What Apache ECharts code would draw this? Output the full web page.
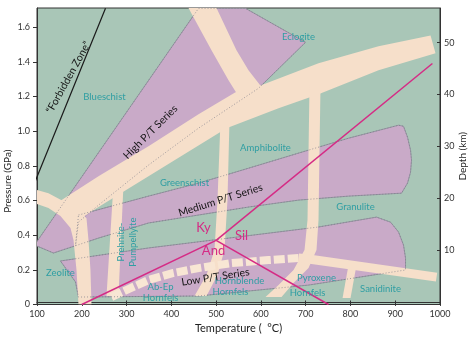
<!DOCTYPE html>
<html>
<head>
<meta charset="utf-8">
<script src="https://cdn.jsdelivr.net/npm/echarts@6/dist/echarts.min.js"></script>
<style>
  html, body { margin: 0; padding: 0; background: #ffffff; }
  #chart { width: 474px; height: 339px; }
</style>
</head>
<body>
<div id="chart"></div>
<script>
// ---- Axis values ----
const tempTicks = [100, 200, 300, 400, 500, 600, 700, 800, 900, 1000];
const pressureTicks = [0, 0.2, 0.4, 0.6, 0.8, 1.0, 1.2, 1.4, 1.6];
const depthTicks = [10, 20, 30, 40, 50];

// ---- P/T series fields (temperature °C, pressure GPa) ----
const highPT = [
  [94.4, 0.343], [460.7, 1.708], [565.6, 1.708], [699.7, 1.512], [594.7, 1.247],
  [460.7, 1.017], [349, 0.804], [237.3, 0.573], [192.6, 0.475], [186, 0.339], [136.8, 0.297]
];
const mediumPT = [
  [192.6, 0.516], [349, 0.625], [460.7, 0.700], [572.3, 0.786], [684, 0.873], [795.7, 0.959],
  [907.4, 1.034], [918.5, 1.028], [927.5, 0.965], [934.2, 0.890], [936.4, 0.832], [934.2, 0.763],
  [927.5, 0.700], [914.1, 0.642], [795.7, 0.625], [684, 0.602], [572.3, 0.562], [460.7, 0.516],
  [349, 0.470], [237.3, 0.383], [186, 0.339]
];
const lowPT = [
  [152.4, 0.251], [349, 0.326], [572.3, 0.397], [728.7, 0.447], [858.3, 0.504], [889.5, 0.475],
  [907.4, 0.418], [918.5, 0.343], [923, 0.268], [923, 0.199], [706.4, 0.112], [550, 0.072],
  [460.7, 0.049], [192.6, 0.043], [186, 0.130]
];

// ---- Facies boundary zones ----
const blueschistGreenschist = [
  [136.8, 0.573], [237.3, 0.740], [349, 0.913], [460.7, 1.097], [543.3, 1.224], [594.7, 1.259],
  [728.7, 1.391], [862.7, 1.489], [978.9, 1.552], [990, 1.449], [862.7, 1.351], [728.7, 1.213],
  [639.4, 1.132], [523.2, 1.017], [349, 0.740], [237.3, 0.562], [192.6, 0.487]
];
const blueschistEclogite = [
  [438.3, 1.71], [489.7, 1.466], [527.7, 1.293], [550, 1.201], [603.6, 1.247],
  [572.3, 1.351], [545.5, 1.466], [500.9, 1.71]
];
const zeoliteZone = [
  [94, 0.665], [125.6, 0.642], [159.1, 0.596], [192.6, 0.544], [210.5, 0.498], [215, 0.372],
  [219.4, 0.199], [221.7, 0], [192.6, 0], [188.2, 0.199], [181.5, 0.372], [174.8, 0.441],
  [152.4, 0.510], [125.6, 0.556], [94, 0.585]
];
const prehniteZone = [[270.8, 0.69], [293.1, 0.69], [282, 0.049], [255.2, 0.049]];
const greenschistAmphibolite = [
  [509.8, 1.063], [503.1, 0.602], [496.4, 0.314], [478.5, 0.170], [451.7, 0.049],
  [478.5, 0.049], [503.1, 0.170], [518.7, 0.314], [525.4, 0.602], [529.9, 1.063]
];
const amphiboliteGranulite = [
  [708.6, 1.264], [706.4, 0.890], [704.1, 0.487], [697.4, 0.314], [672.9, 0.199], [639.4, 0.112],
  [610.3, 0.043], [646.1, 0.043], [672.9, 0.124], [706.4, 0.210], [724.2, 0.314], [728.7, 0.487],
  [730.9, 0.890], [733.2, 1.264]
];
const sanidiniteZone = [[795.7, 0.228], [813.6, 0.228], [800.2, 0.037], [782.4, 0.037]];
const lowPTDashed = [
  [266.3, 0.043], [304.3, 0.089], [349, 0.141], [404.8, 0.182], [460.7, 0.210],
  [534.4, 0.239], [617, 0.256], [684, 0.268]
];
const lowPTSolid = [[684, 0.268], [706.4, 0.262], [992.3, 0.158]];

// ---- Lines ----
const forbiddenLine = [[94.4, 0.70], [253, 1.708]];
const triplePoint = [500, 0.37];
const kyAnd = [[200, 0], triplePoint];
const kySil = [triplePoint, [983, 1.39]];
const andSil = [triplePoint, [751, 0]];

// ---- Text annotations ----
const faciesNames = ['Eclogite', 'Blueschist', 'Amphibolite', 'Greenschist', 'Granulite', 'Zeolite',
  'Ab-Ep', 'Hornfels', 'Hornblende', 'Hornfels', 'Pyroxene', 'Hornfels', 'Sanidinite'];
const faciesAt = [[684, 1.541], [250.7, 1.195], [610.3, 0.901], [429.4, 0.700], [811.3, 0.562],
  [152.4, 0.182], [375.8, 0.101], [375.8, 0.037], [552.2, 0.135], [532.1, 0.072],
  [724.2, 0.153], [704.1, 0.066], [867.2, 0.089]];
const verticalNames = ['Prehnite-', 'Pumpellyite'];
const verticalAt = [[286.4, 0.360], [313.2, 0.360]];
const seriesNames = ['High P/T Series', 'Medium P/T Series', 'Low P/T Series', '\u201cForbidden Zone\u201d'];
const seriesAt = [[353.4, 0.994], [509.8, 0.602], [498.6, 0.158], [170.3, 1.310]];
const seriesAngle = [45, 17.5, 9, 61];
const mineralNames = ['Ky', 'Sil', 'And'];
const mineralAt = [[471.8, 0.441], [556.7, 0.395], [494.2, 0.308]];

const GREEN = '#a9c6b7';
const PURPLE = '#c9aac8';
const BEIGE = '#f6dfca';
const OUTLINE = '#8b8b99';
const TEAL = '#2f9ea3';
const PINK = '#d52b85';
const FONT = 'Lato, "Open Sans", sans-serif';

function area(name, pts, style, z) {
  return {
    type: 'custom', name, coordinateSystem: 'cartesian2d', clip: true, z,
    data: [pts[0]], encode: { x: 0, y: 1 }, silent: true,
    renderItem: function (params, api) {
      return {
        type: 'polygon',
        shape: { points: pts.map(p => api.coord(p)) },
        style: Object.assign({}, style)
      };
    }
  };
}

function line(name, pts, color, width, dash, z) {
  return {
    type: 'line', name, data: pts, symbol: 'none', z, silent: true,
    lineStyle: { color, width, type: dash || 'solid', cap: 'butt' }
  };
}

function texts(name, names, at, opts, z) {
  return {
    type: 'custom', name, coordinateSystem: 'cartesian2d', z, silent: true,
    data: at, encode: { x: 0, y: 1 },
    renderItem: function (params, api) {
      const c = api.coord([api.value(0), api.value(1)]);
      const deg = opts.angles ? opts.angles[params.dataIndex] : (opts.angle || 0);
      return {
        type: 'text', x: c[0], y: c[1], rotation: deg * Math.PI / 180,
        style: {
          text: names[params.dataIndex], fill: opts.color, fontSize: opts.size,
          fontFamily: FONT, fontWeight: opts.weight || 'normal',
          align: 'center', verticalAlign: 'middle'
        }
      };
    }
  };
}

const fieldStyle = { fill: PURPLE, stroke: OUTLINE, lineWidth: 0.8 };
const zoneStyle = { fill: BEIGE, stroke: null };
const dottedStyle = { fill: null, stroke: '#7d7d8a', lineWidth: 0.7, lineDash: [1, 2] };

const option = {
  animation: false,
  grid: { left: 37, right: 34, top: 8, bottom: 34.5, show: true, backgroundColor: GREEN,
          borderColor: '#333', borderWidth: 1, containLabel: false, outerBoundsMode: 'none' },
  xAxis: [
    { type: 'value', min: 100, max: 1000, interval: 100, position: 'bottom',
      axisLine: { show: true, lineStyle: { color: '#333', width: 1 } },
      axisTick: { show: true, inside: true, length: 4, lineStyle: { color: '#333' } },
      axisLabel: { fontSize: 9, color: '#333', margin: 5, fontFamily: FONT,
                   customValues: tempTicks, formatter: v => String(v) },
      splitLine: { show: false },
      name: 'Temperature (  \u00b0C)', nameLocation: 'middle', nameGap: 18, nameMoveOverlap: false,
      nameTextStyle: { fontSize: 11, color: '#222', fontFamily: FONT } },
    { type: 'value', min: 100, max: 1000, interval: 100, position: 'top',
      axisLine: { show: true, lineStyle: { color: '#333', width: 1 } },
      axisTick: { show: true, inside: true, length: 4, lineStyle: { color: '#333' } },
      axisLabel: { show: false }, splitLine: { show: false } }
  ],
  yAxis: [
    { type: 'value', min: 0, max: 1.71, position: 'left',
      axisLine: { show: true, lineStyle: { color: '#333', width: 1 } },
      axisTick: { show: true, length: 4, lineStyle: { color: '#333' }, customValues: pressureTicks },
      axisLabel: { fontSize: 9, color: '#333', margin: 7, fontFamily: FONT, customValues: pressureTicks,
                   formatter: v => (v === 0 ? '0' : v.toFixed(1)) },
      splitLine: { show: false },
      name: 'Pressure (GPa)', nameLocation: 'middle', nameGap: 24, nameRotate: 90, nameMoveOverlap: false,
      nameTextStyle: { fontSize: 10, color: '#222', fontFamily: FONT, padding: [0, 50, 0, 0] } },
    { type: 'value', min: -0.5, max: 56.7, position: 'right',
      axisLine: { show: true, lineStyle: { color: '#333', width: 1 } },
      axisTick: { show: true, inside: true, length: 3, lineStyle: { color: '#333' }, customValues: depthTicks },
      axisLabel: { fontSize: 9, color: '#333', margin: 4, fontFamily: FONT, customValues: depthTicks },
      splitLine: { show: false },
      name: 'Depth (km)', nameLocation: 'middle', nameGap: 18, nameRotate: 90, nameMoveOverlap: false,
      nameTextStyle: { fontSize: 10, color: '#222', fontFamily: FONT } }
  ],
  series: [
    area('High P/T', highPT, fieldStyle, 1),
    area('Medium P/T', mediumPT, fieldStyle, 1),
    area('Low P/T', lowPT, fieldStyle, 1),
    area('Blueschist-Greenschist', blueschistGreenschist, zoneStyle, 2),
    area('Blueschist-Eclogite', blueschistEclogite, zoneStyle, 2),
    area('Zeolite', zeoliteZone, zoneStyle, 2),
    area('Prehnite', prehniteZone, zoneStyle, 2),
    area('Greenschist-Amphibolite', greenschistAmphibolite, zoneStyle, 2),
    area('Amphibolite-Granulite', amphiboliteGranulite, zoneStyle, 2),
    area('Sanidinite', sanidiniteZone, zoneStyle, 2),
    line('Low P/T dashed', lowPTDashed, '#f8e6d4', 8, [11, 3], 3),
    line('Low P/T solid', lowPTSolid, BEIGE, 9, 'solid', 3),
    area('High P/T trace', highPT, dottedStyle, 4),
    area('Medium P/T trace', mediumPT, dottedStyle, 4),
    area('Low P/T trace', lowPT, dottedStyle, 4),
    line('Forbidden', forbiddenLine, '#1a1a1a', 1.2, 'solid', 5),
    line('Ky-And', kyAnd, PINK, 1.5, 'solid', 5),
    line('Ky-Sil', kySil, PINK, 1.5, 'solid', 5),
    line('And-Sil', andSil, PINK, 1.5, 'solid', 5),
    texts('Facies', faciesNames, faciesAt, { color: TEAL, size: 9.5 }, 6),
    texts('Facies vertical', verticalNames, verticalAt, { color: TEAL, size: 9.5, angle: 90 }, 6),
    texts('Series', seriesNames, seriesAt, { color: '#151515', size: 10.5, angles: seriesAngle }, 6),
    texts('Minerals', mineralNames, mineralAt, { color: PINK, size: 13 }, 6)
  ]
};

const chart = echarts.init(document.getElementById('chart'), null, { renderer: 'canvas' });
chart.setOption(option);
</script>
</body>
</html>
